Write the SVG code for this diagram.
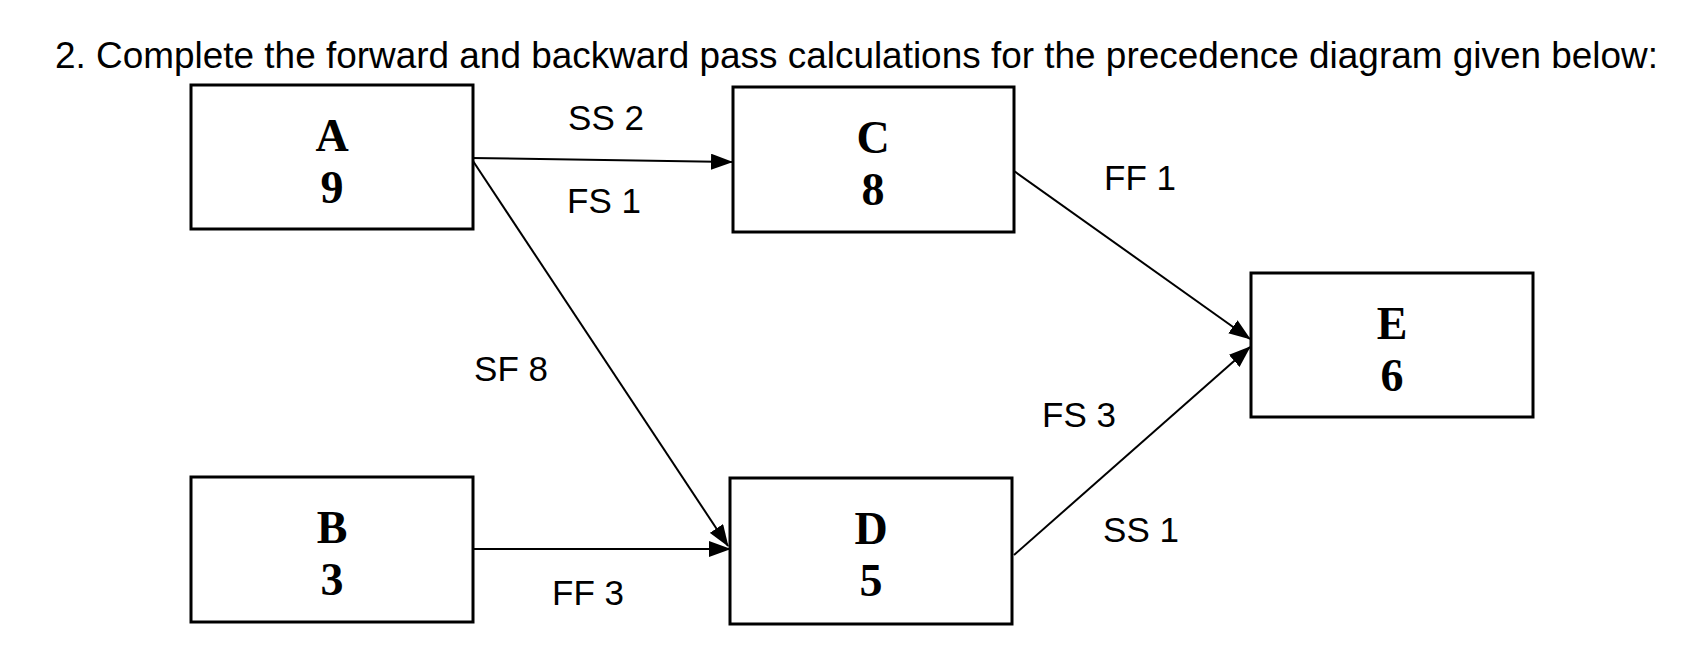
<svg xmlns="http://www.w3.org/2000/svg" width="1704" height="662" viewBox="0 0 1704 662">
<style>
.box{fill:#fff;stroke:#000;stroke-width:3}
.nt{font-family:"Liberation Serif",serif;font-weight:bold;font-size:46px;text-anchor:middle}
.lb{font-family:"Liberation Sans",Arial,sans-serif;font-size:35px;text-anchor:middle}
</style>
<defs>
<marker id="ah2" markerWidth="22" markerHeight="16" refX="21" refY="8" orient="auto" markerUnits="userSpaceOnUse"><path d="M0,0 L22,8 L0,16 z" fill="#000"/></marker></defs>
<text x="55" y="68" font-family="Liberation Sans,Arial,sans-serif" font-size="36" textLength="1603" lengthAdjust="spacingAndGlyphs">2.  Complete the forward and backward pass calculations for the precedence diagram given below:</text>
<g id="connectors" stroke="#000" stroke-width="2" fill="none">
<path d="M471,158 L732,162" marker-end="url(#ah2)"/>
<path d="M471,158 L728,546" marker-end="url(#ah2)"/>
<path d="M471,549 L730,549" marker-end="url(#ah2)"/>
<path d="M1014,171 L1250,339" marker-end="url(#ah2)"/>
<path d="M1014,555 L1250,347" marker-end="url(#ah2)"/>
</g>
<g id="labels">
<text class="lb" x="606" y="130">SS 2</text>
<text class="lb" x="604" y="213">FS 1</text>
<text class="lb" x="511" y="381">SF 8</text>
<text class="lb" x="588" y="605">FF 3</text>
<text class="lb" x="1140" y="190">FF 1</text>
<text class="lb" x="1079" y="427">FS 3</text>
<text class="lb" x="1141" y="542">SS 1</text>
</g>
<g id="A"><rect class="box" x="191" y="85" width="282" height="144"/><text class="nt" x="332" y="151">A</text><text class="nt" x="332" y="203">9</text></g>
<g id="C"><rect class="box" x="733" y="87" width="281" height="145"/><text class="nt" x="873" y="153">C</text><text class="nt" x="873" y="205">8</text></g>
<g id="E"><rect class="box" x="1251" y="273" width="282" height="144"/><text class="nt" x="1392" y="339">E</text><text class="nt" x="1392" y="391">6</text></g>
<g id="B"><rect class="box" x="191" y="477" width="282" height="145"/><text class="nt" x="332" y="543">B</text><text class="nt" x="332" y="595">3</text></g>
<g id="D"><rect class="box" x="730" y="478" width="282" height="146"/><text class="nt" x="871" y="544">D</text><text class="nt" x="871" y="596">5</text></g>
</svg>
